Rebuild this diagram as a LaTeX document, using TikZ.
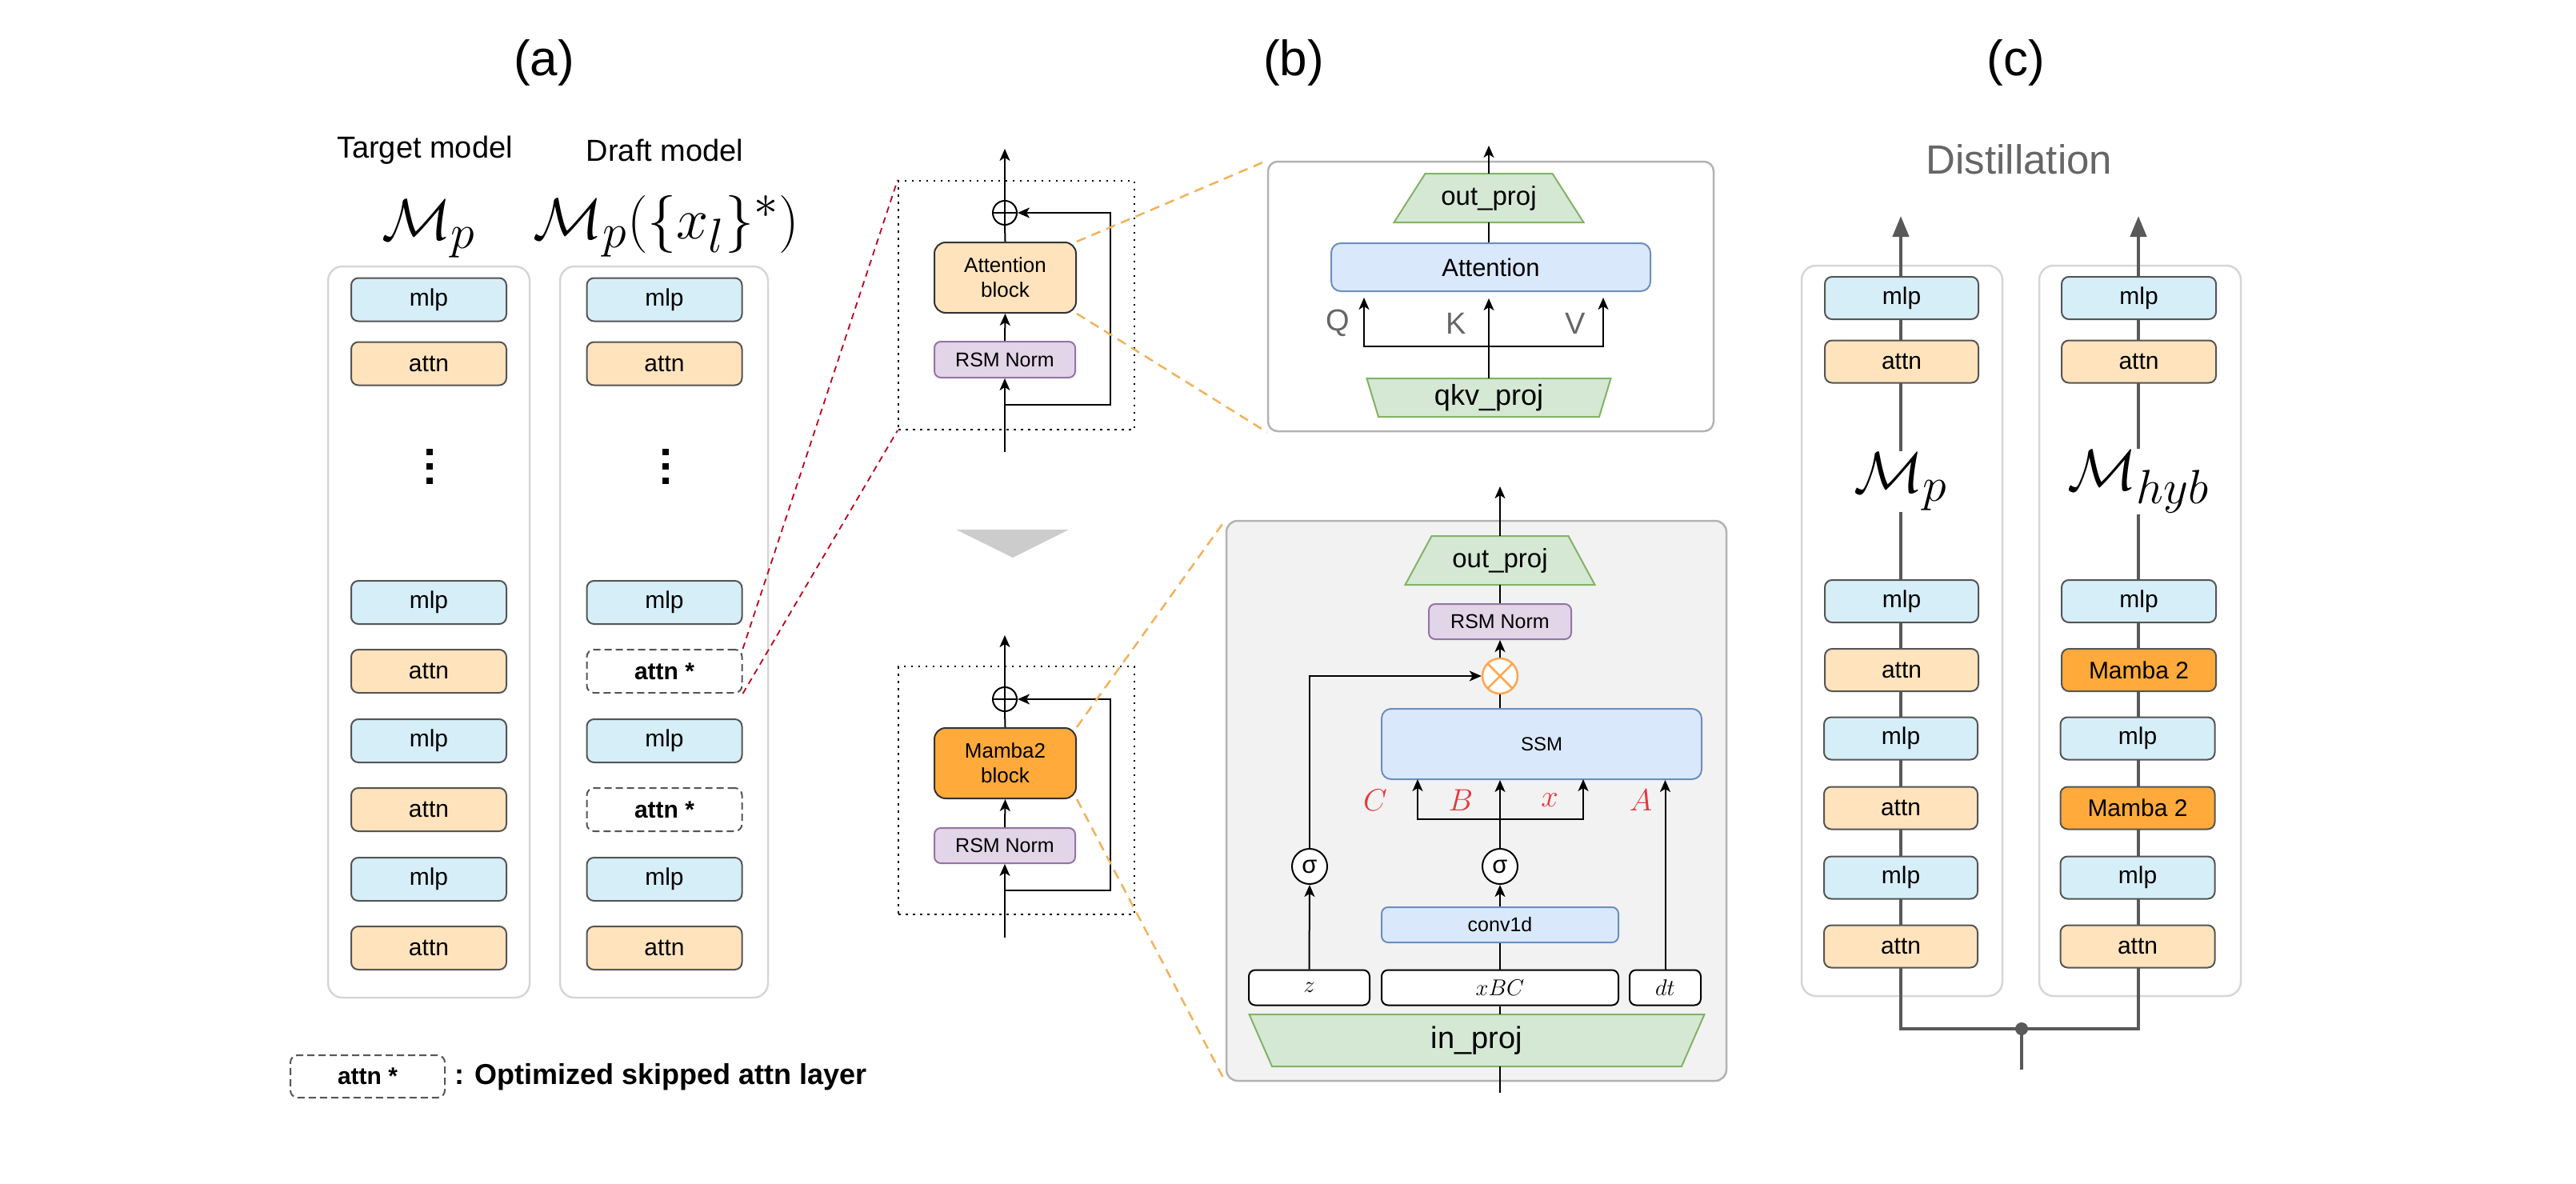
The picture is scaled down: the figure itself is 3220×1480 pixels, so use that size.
\documentclass[tikz,border=0pt]{standalone}
\usepackage{graphicx}
\usepackage[no-math]{fontspec}
\setmainfont{Liberation Sans}
\usetikzlibrary{arrows.meta}
\definecolor{mlpfill}{HTML}{D6EEF8}
\definecolor{attnfill}{HTML}{FFE3BC}
\definecolor{mambafill}{HTML}{FFAA3B}
\definecolor{blkdraw}{HTML}{555555}
\definecolor{panelc}{HTML}{D6D6D6}
\definecolor{normfill}{HTML}{E1D5E7}
\definecolor{normdraw}{HTML}{9673A6}
\definecolor{bluefill}{HTML}{DAE8FC}
\definecolor{bluedraw}{HTML}{6C8EBF}
\definecolor{projfill}{HTML}{D5E8D4}
\definecolor{projdraw}{HTML}{82B366}
\definecolor{boxgray}{HTML}{B3B3B3}
\definecolor{bggray}{HTML}{F2F2F2}
\definecolor{redlbl}{HTML}{E8343C}
\definecolor{zoomred}{HTML}{C0001A}
\definecolor{zoomorange}{HTML}{F2B25A}
\definecolor{darkline}{HTML}{595959}
\definecolor{txtgray}{HTML}{666666}
\definecolor{otimc}{HTML}{FFA64D}
\definecolor{trigray}{HTML}{CCCCCC}
\newcommand{\fsz}[2]{\fontsize{#1}{#2}\selectfont}
\newcommand{\boxmath}[1]{\scalebox{1.15}{$#1$}}
\newcommand{\trapz}[7]{%
  \filldraw[fill=projfill, draw=projdraw, line width=2pt]
    ({#2-#4/2},{#3-#6/2}) -- ({#2+#4/2},{#3-#6/2}) -- ({#2+#5/2},{#3+#6/2}) -- ({#2-#5/2},{#3+#6/2}) -- cycle;
  \node[minimum width=#5pt, minimum height=#6pt, inner sep=0pt] (#1) at (#2,#3) {#7};}
\tikzset{
  blk/.style={draw=blkdraw, line width=2pt, rounded corners=9pt, minimum width=194pt, minimum height=54pt, inner sep=0pt, font=\fsz{30}{36}},
  mlpb/.style={blk, fill=mlpfill},
  attnb/.style={blk, fill=attnfill},
  mambab/.style={blk, fill=mambafill},
  skipb/.style={blk, fill=white, dash pattern=on 9pt off 5pt, font=\fsz{30}{36}\bfseries},
  panelbox/.style={draw=panelc, line width=2.5pt, rounded corners=18pt},
  arr/.style={-{Stealth[length=15pt,width=13pt,inset=4pt]}, line width=2pt},
  ln/.style={line width=2pt},
  norm/.style={draw=normdraw, fill=normfill, line width=2pt, rounded corners=8pt, inner sep=0pt, font=\fsz{25}{30}},
  bluebox/.style={draw=bluedraw, fill=bluefill, line width=2pt, rounded corners=12pt, inner sep=0pt},
  plus/.style={circle, draw, line width=2pt, fill=white, minimum size=30pt, inner sep=0pt,
    path picture={\draw[line width=2pt] (path picture bounding box.north) -- (path picture bounding box.south) (path picture bounding box.west) -- (path picture bounding box.east);}},
  otim/.style={circle, draw=otimc, line width=2.5pt, fill=white, minimum size=44pt, inner sep=0pt,
    path picture={\draw[otimc, line width=2.5pt] (path picture bounding box.north west) -- (path picture bounding box.south east) (path picture bounding box.north east) -- (path picture bounding box.south west);}},
  sig/.style={circle, draw, line width=2pt, fill=white, minimum size=44pt, inner sep=0pt, font=\fsz{31}{36}},
  mbox/.style={draw, line width=2pt, fill=white, rounded corners=8pt, minimum height=44pt, inner sep=0pt, font=\fsz{24.88}{30}},
  lbl/.style={text=redlbl, font=\fsz{24.88}{30}, scale=1.55},
  dotbox/.style={draw, line width=2pt, dash pattern=on 2.5pt off 6.5pt, inner sep=0pt},
  zred/.style={draw=zoomred, line width=1.8pt, dash pattern=on 8pt off 6pt},
  zorange/.style={draw=zoomorange, line width=2.5pt, dash pattern=on 12pt off 8pt},
  dl/.style={draw=darkline, line width=4.5pt},
  dlarr/.style={dl, -{Triangle[length=26pt,width=20pt]}},
  bigmath/.style={font=\fsz{24.88}{30}, scale=2.9, inner sep=0.4pt},
  head/.style={font=\fsz{38}{44}},
  plab/.style={font=\fsz{62}{70}},
}
\begin{document}
\begin{tikzpicture}[x=1pt,y=-1pt]
\path[fill=white, use as bounding box] (0,0) rectangle (3220,1480);

% ---------- panel labels
\node[plab] (la) at (680,78) {(a)};
\node[plab] (lb) at (1617,78) {(b)};
\node[plab] (lc) at (2520,78) {(c)};

% ---------- (a)
\node[head] (tgt) at (531,188) {Target model};
\node[head] (drf) at (831,188) {Draft model};
\node[bigmath] (mp) at (536,286) {$\mathcal{M}_p$};
\node[bigmath] (mpx) at (833,283) {$\mathcal{M}_p(\{x_l\}^*)$};
\draw[panelbox] (410,333) rectangle (662,1247);
\draw[panelbox] (700,333) rectangle (960,1247);

\node[mlpb] (t1) at (536,374.5) {mlp};
\node[attnb] (t2) at (536,454.5) {attn};
\node[mlpb] (t3) at (536,753) {mlp};
\node[attnb] (t4) at (536,839) {attn};
\node[mlpb] (t5) at (536,926) {mlp};
\node[attnb] (t6) at (536,1012) {attn};
\node[mlpb] (t7) at (536,1099) {mlp};
\node[attnb] (t8) at (536,1185) {attn};

\node[mlpb] (d1) at (830.5,374.5) {mlp};
\node[attnb] (d2) at (830.5,454.5) {attn};
\node[mlpb] (d3) at (830.5,753) {mlp};
\node[skipb] (d4) at (830.5,839) {attn *};
\node[mlpb] (d5) at (830.5,926) {mlp};
\node[skipb] (d6) at (830.5,1012) {attn *};
\node[mlpb] (d7) at (830.5,1099) {mlp};
\node[attnb] (d8) at (830.5,1185) {attn};

\foreach \yy in {565,583,601} {
  \fill (533,\yy-4) rectangle ++(8,8);
  \fill (828,\yy-4) rectangle ++(8,8);
}

\node[skipb, minimum width=193pt, minimum height=53pt] (leg) at (459.5,1345.5) {attn *};
\node[font=\fsz{36}{42}\bfseries, anchor=west, inner sep=0pt] (legt) at (568,1346) {: Optimized skipped attn layer};

% ---------- (b) small blocks
\node[dotbox, minimum width=295pt, minimum height=311pt] (dbA) at (1270.5,381.5) {};
\node[attnb, minimum width=177pt, minimum height=88pt, rounded corners=14pt, font=\fsz{26}{31}, align=center, draw=black!80] (ab) at (1256.5,347) {Attention\\block};
\node[norm, minimum width=176pt, minimum height=45pt] (n1) at (1256,449.5) {RSM Norm};
\node[plus] (p1) at (1256,266) {};
\coordinate (in1) at (1256,565);
\coordinate (out1) at (1256,186);
\coordinate (r1) at (1256,506);
\draw[arr] (in1) -- (n1.south);
\draw[arr] (n1.north) -- (ab.south);
\draw[ln] (ab.north) -- (p1.south);
\draw[arr] (p1.north) -- (out1);
\draw[arr] (r1) -- ++(132,0) |- (p1.east);

\fill[trigray] (1195,662) -- (1336,662) -- (1266,697) -- cycle;

\node[dotbox, minimum width=295pt, minimum height=310pt] (dbB) at (1270.5,988) {};
\node[mambab, minimum width=177pt, minimum height=88pt, rounded corners=14pt, font=\fsz{26}{31}, align=center, draw=black!80] (mb) at (1256.5,954) {Mamba2\\block};
\node[norm, minimum width=176pt, minimum height=44pt] (n2) at (1256,1057) {RSM Norm};
\node[plus] (p2) at (1256,874) {};
\coordinate (in2) at (1256,1172);
\coordinate (out2) at (1256,794);
\coordinate (r2) at (1256,1113);
\draw[arr] (in2) -- (n2.south);
\draw[arr] (n2.north) -- (mb.south);
\draw[ln] (mb.north) -- (p2.south);
\draw[arr] (p2.north) -- (out2);
\draw[arr] (r2) -- ++(132,0) |- (p2.east);

% ---------- (b) attention detail
\node[draw=boxgray, fill=white, line width=2.5pt, rounded corners=12pt, minimum width=557pt, minimum height=337pt, inner sep=0pt] (attdet) at (1863.5,370.5) {};
\trapz{aop}{1861}{247.5}{159}{237}{61}{\fsz{33}{40}out\_proj}
\node[bluebox, minimum width=399pt, minimum height=60pt, font=\fsz{31}{37}] (att) at (1863.5,334) {Attention};
\trapz{qkv}{1861}{497}{305}{276}{48}{\fsz{36}{42}qkv\_proj}
\coordinate (kv) at (1861,433);
\coordinate (qa) at (1705,364);
\coordinate (va) at (2004,364);
\coordinate (aout) at (1861,182);
\draw[ln] (qkv.north) -- (kv);
\draw[arr, shorten >=8pt] (kv) -- (kv |- att.south);
\draw[arr, shorten >=8pt] (kv) -| (qa);
\draw[arr, shorten >=8pt] (kv) -| (va);
\draw[ln] (aop.south |- att.north) -- (aop.south);
\draw[arr] (aop.north) -- (aout);
\node[text=txtgray, font=\fsz{38}{44}] (lq) at (1672,404) {Q};
\node[text=txtgray, font=\fsz{38}{44}] (lk) at (1820,404) {K};
\node[text=txtgray, font=\fsz{38}{44}] (lv) at (1969,404) {V};

% ---------- (b) mamba detail
\node[draw=boxgray, fill=bggray, line width=2.5pt, rounded corners=14pt, minimum width=625pt, minimum height=700pt, inner sep=0pt] (mamdet) at (1845.5,1001) {};
\trapz{mop}{1875}{700.5}{171}{237}{61}{\fsz{33}{40}out\_proj}
\node[norm, minimum width=178pt, minimum height=44pt] (n3) at (1875,777) {RSM Norm};
\node[otim] (ot) at (1875,845) {};
\node[bluebox, minimum width=400pt, minimum height=88pt, font=\fsz{24}{30}] (ssm) at (1927,930) {SSM};
\node[sig] (s1) at (1637,1083) {σ};
\node[sig] (s2) at (1875,1083) {σ};
\node[bluebox, minimum width=296pt, minimum height=44pt, font=\fsz{25}{30}, rounded corners=8pt] (conv) at (1875,1156) {conv1d};
\node[mbox, minimum width=151pt] (zb) at (1636.5,1234.5) {\boxmath{z}};
\node[mbox, minimum width=296pt] (xb) at (1875,1234.5) {\boxmath{xBC}};
\node[mbox, minimum width=89pt] (dtb) at (2081.5,1234.5) {\boxmath{dt}};
\trapz{inp}{1846}{1300.5}{569}{512}{65}{\fsz{38}{44}in\_proj}
\node[lbl] (lC) at (1719,1000) {$C$};
\node[lbl] (lB) at (1826,1000) {$B$};
\node[lbl] (lx) at (1937,1000) {$x$};
\node[lbl] (lA) at (2051,1000) {$A$};

\coordinate (minp) at (1875,1366);
\coordinate (sp) at (1875,1024);
\coordinate (cB) at (1772,974);
\coordinate (cX) at (1979,974);
\coordinate (mout) at (1875,608);
\draw[ln] (minp) -- (minp |- inp.south);
\draw[ln] (xb.south) -- (xb.south |- inp.north);
\draw[ln] (xb.north) -- (conv.south);
\draw[arr] (conv.north) -- (s2.south);
\draw[ln] (s2.north) -- (sp);
\draw[arr] (sp) -- (sp |- ssm.south);
\draw[arr] (sp) -| (cB);
\draw[arr] (sp) -| (cX);
\draw[arr] (dtb.north) -- (dtb.north |- ssm.south);
\draw[arr] (zb.north) -- (s1.south);
\draw[arr] (s1.north) |- (ot.west);
\draw[ln] (ot.south |- ssm.north) -- (ot.south);
\draw[arr] (ot.north) -- (n3.south);
\draw[ln] (n3.north) -- (mop.south);
\draw[arr] (mop.north) -- (mout);

% ---------- zoom connectors
\draw[zred] (d4.north east) -- (dbA.north west);
\draw[zred] (d4.south east) -- (dbA.south west);
\draw[zorange] (ab.north east) -- (attdet.north west);
\draw[zorange] (ab.south east) -- (attdet.south west);
\draw[zorange] (mb.north east) -- (mamdet.north west);
\draw[zorange] (mb.south east) -- (mamdet.south west);

% ---------- (c)
\node[font=\fsz{51}{60}, text=txtgray] (dist) at (2524,199) {Distillation};
\draw[panelbox] (2252,332) rectangle (2503,1245);
\draw[panelbox] (2549,332) rectangle (2801,1245);
\node[bigmath] (Lm) at (2376,602) {$\mathcal{M}_p$};
\node[bigmath] (Rm) at (2673,602) {$\mathcal{M}_{hyb}$};
\coordinate (jl) at (2376,1286);
\coordinate (jr) at (2673,1286);
\coordinate (jc) at (2527,1286);
\coordinate (jb) at (2527,1337);
\coordinate (ltip) at (2376,270);
\coordinate (rtip) at (2673,270);
\draw[dl] (Lm.south) -- (jl) -- (jr) -- (Rm.south);
\draw[dl] (jc) -- (jb);
\fill[darkline] (jc) circle (8);
\draw[dlarr] (Lm.north) -- (ltip);
\draw[dlarr] (Rm.north) -- (rtip);

\node[mlpb, minimum width=192pt, minimum height=53pt] (L1) at (2377,372.5) {mlp};
\node[attnb, minimum width=192pt, minimum height=53pt] (L2) at (2377,452) {attn};
\node[mlpb, minimum width=192pt, minimum height=53pt] (L3) at (2377,751.5) {mlp};
\node[attnb, minimum width=192pt, minimum height=53pt] (L4) at (2377,837.5) {attn};
\node[mlpb, minimum width=192pt, minimum height=53pt] (L5) at (2376,923) {mlp};
\node[attnb, minimum width=192pt, minimum height=53pt] (L6) at (2376,1010) {attn};
\node[mlpb, minimum width=192pt, minimum height=53pt] (L7) at (2376,1097) {mlp};
\node[attnb, minimum width=192pt, minimum height=53pt] (L8) at (2376,1183) {attn};

\node[mlpb, minimum width=193pt, minimum height=53pt] (R1) at (2673.5,372.5) {mlp};
\node[attnb, minimum width=193pt, minimum height=53pt] (R2) at (2673.5,452) {attn};
\node[mlpb, minimum width=193pt, minimum height=53pt] (R3) at (2673.5,751.5) {mlp};
\node[mambab, minimum width=193pt, minimum height=53pt] (R4) at (2673.5,837.5) {Mamba 2};
\node[mlpb, minimum width=193pt, minimum height=53pt] (R5) at (2672,923) {mlp};
\node[mambab, minimum width=193pt, minimum height=53pt] (R6) at (2672,1010) {Mamba 2};
\node[mlpb, minimum width=193pt, minimum height=53pt] (R7) at (2672,1097) {mlp};
\node[attnb, minimum width=193pt, minimum height=53pt] (R8) at (2672,1183) {attn};
\end{tikzpicture}
\end{document}
